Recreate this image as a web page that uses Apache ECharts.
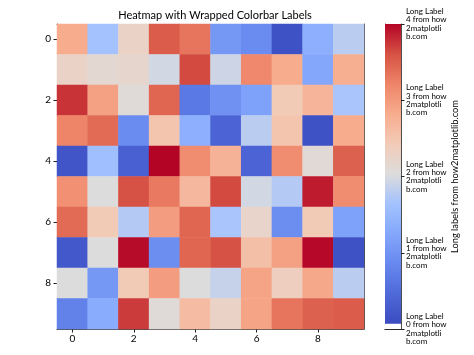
<!DOCTYPE html>
<html><head><meta charset="utf-8">
<script src="https://cdn.jsdelivr.net/npm/echarts@6/dist/echarts.min.js"></script>
<style>html,body{margin:0;padding:0;background:#fff}#c{width:474px;height:355px}</style>
</head><body><div id="c"></div>
<script>
var xCategories = ['0','1','2','3','4','5','6','7','8','9'];
var yCategories = ['0','1','2','3','4','5','6','7','8','9'];
var values = [
  [0.70,0.40,0.56,0.88,0.83,0.25,0.21,0.02,0.33,0.44],
  [0.56,0.53,0.54,0.48,0.91,0.47,0.79,0.70,0.30,0.69],
  [0.94,0.73,0.51,0.86,0.15,0.23,0.28,0.60,0.67,0.41],
  [0.80,0.85,0.21,0.62,0.33,0.08,0.44,0.62,0.02,0.70],
  [0.03,0.39,0.07,1.00,0.78,0.68,0.08,0.78,0.52,0.87],
  [0.77,0.50,0.90,0.82,0.66,0.91,0.48,0.43,0.97,0.78],
  [0.85,0.60,0.43,0.74,0.86,0.41,0.55,0.22,0.60,0.28],
  [0.04,0.50,0.99,0.22,0.86,0.90,0.64,0.73,0.995,0.02],
  [0.50,0.25,0.60,0.74,0.50,0.46,0.72,0.58,0.71,0.44],
  [0.18,0.32,0.93,0.51,0.65,0.56,0.72,0.83,0.87,0.88]
];
var colorbarTicks = [0,1,2,3,4];
var colorbarLabels = [
  'Long Label\n0 from how\n2matplotli\nb.com',
  'Long Label\n1 from how\n2matplotli\nb.com',
  'Long Label\n2 from how\n2matplotli\nb.com',
  'Long Label\n3 from how\n2matplotli\nb.com',
  'Long Label\n4 from how\n2matplotli\nb.com'
];
var colorbarGap = [0.07];
var colorbarFill = [3.93];
var coolwarm = ['#3b4cc0','#4f69d9','#6788ee','#84a7fc','#a3c2fe','#dddcdc','#f2cbb7','#f7ac8e','#ee8468','#d65244','#b40426'];

var heatData = [];
for (var r = 0; r < values.length; r++) {
  for (var c = 0; c < values[r].length; c++) heatData.push([c, r, values[r][c]]);
}
var stops = coolwarm.map(function (col, i) { return {offset: 1 - i / (coolwarm.length - 1), color: col}; }).reverse();

var font = 'Lato';
var chart = echarts.init(document.getElementById('c'), null, {renderer: 'canvas'});
var spine = {show: true, lineStyle: {color: '#222', width: 0.8}};
chart.setOption({
  animation: false,
  title: {text: 'Heatmap with Wrapped Colorbar Labels', left: 210, top: 5, textAlign: 'center',
    textStyle: {fontFamily: font, fontSize: 11, fontWeight: 'normal', color: '#000'}},
  grid: [
    {left: 57, top: 24, width: 307, height: 305},
    {left: 385, top: 24, width: 16, height: 305}
  ],
  visualMap: {show: false, min: 0, max: 1, seriesIndex: 0, inRange: {color: coolwarm}},
  xAxis: [
    {type: 'category', data: xCategories, gridIndex: 0, position: 'bottom', axisLine: spine,
      axisTick: {show: true, interval: 1, alignWithLabel: true, length: 3.5, lineStyle: {color: '#222'}},
      axisLabel: {interval: 1, fontFamily: font, fontSize: 10, color: '#000', margin: 5},
      splitLine: {show: false}},
    {type: 'category', data: xCategories, gridIndex: 0, position: 'top', axisLine: spine,
      axisTick: {show: false}, axisLabel: {show: false}},
    {type: 'category', data: ['c'], gridIndex: 1, position: 'bottom', axisLine: spine,
      axisTick: {show: false}, axisLabel: {show: false}},
    {type: 'category', data: ['c'], gridIndex: 1, position: 'top', axisLine: spine,
      axisTick: {show: false}, axisLabel: {show: false}}
  ],
  yAxis: [
    {type: 'category', data: yCategories, gridIndex: 0, inverse: true, position: 'left', axisLine: spine,
      axisTick: {show: true, interval: 1, alignWithLabel: true, length: 3.5, lineStyle: {color: '#222'}},
      axisLabel: {interval: 1, fontFamily: font, fontSize: 10, color: '#000', margin: 6},
      splitLine: {show: false}},
    {type: 'category', data: yCategories, gridIndex: 0, inverse: true, position: 'right', axisLine: spine,
      axisTick: {show: false}, axisLabel: {show: false}},
    {type: 'value', gridIndex: 1, min: 0, max: 4, interval: 1, position: 'right', axisLine: spine,
      axisTick: {show: true, length: 3.5, lineStyle: {color: '#222'}},
      splitLine: {show: false},
      axisLabel: {fontFamily: font, fontSize: 8, lineHeight: 8.3, color: '#000', margin: 5, align: 'left',
        formatter: function (v) { var i = colorbarTicks.indexOf(v); return i >= 0 ? colorbarLabels[i] : ''; }},
      name: 'Long labels from how2matplotlib.com', nameLocation: 'middle', nameRotate: 90, nameGap: 36,
      nameTextStyle: {fontFamily: font, fontSize: 9.3, color: '#000'}},
    {type: 'value', gridIndex: 1, min: 0, max: 4, position: 'left', axisLine: spine,
      axisTick: {show: false}, axisLabel: {show: false}, splitLine: {show: false}}
  ],
  series: [
    {type: 'heatmap', xAxisIndex: 0, yAxisIndex: 0, data: heatData, itemStyle: {borderWidth: 0}},
    {type: 'bar', xAxisIndex: 2, yAxisIndex: 2, stack: 'cb', data: colorbarGap, barWidth: '100%',
      itemStyle: {color: '#fff'}, silent: true},
    {type: 'bar', xAxisIndex: 2, yAxisIndex: 2, stack: 'cb', data: colorbarFill, barWidth: '100%',
      itemStyle: {color: new echarts.graphic.LinearGradient(0, 0, 0, 1, stops)}, silent: true}
  ]
});
</script></body></html>
